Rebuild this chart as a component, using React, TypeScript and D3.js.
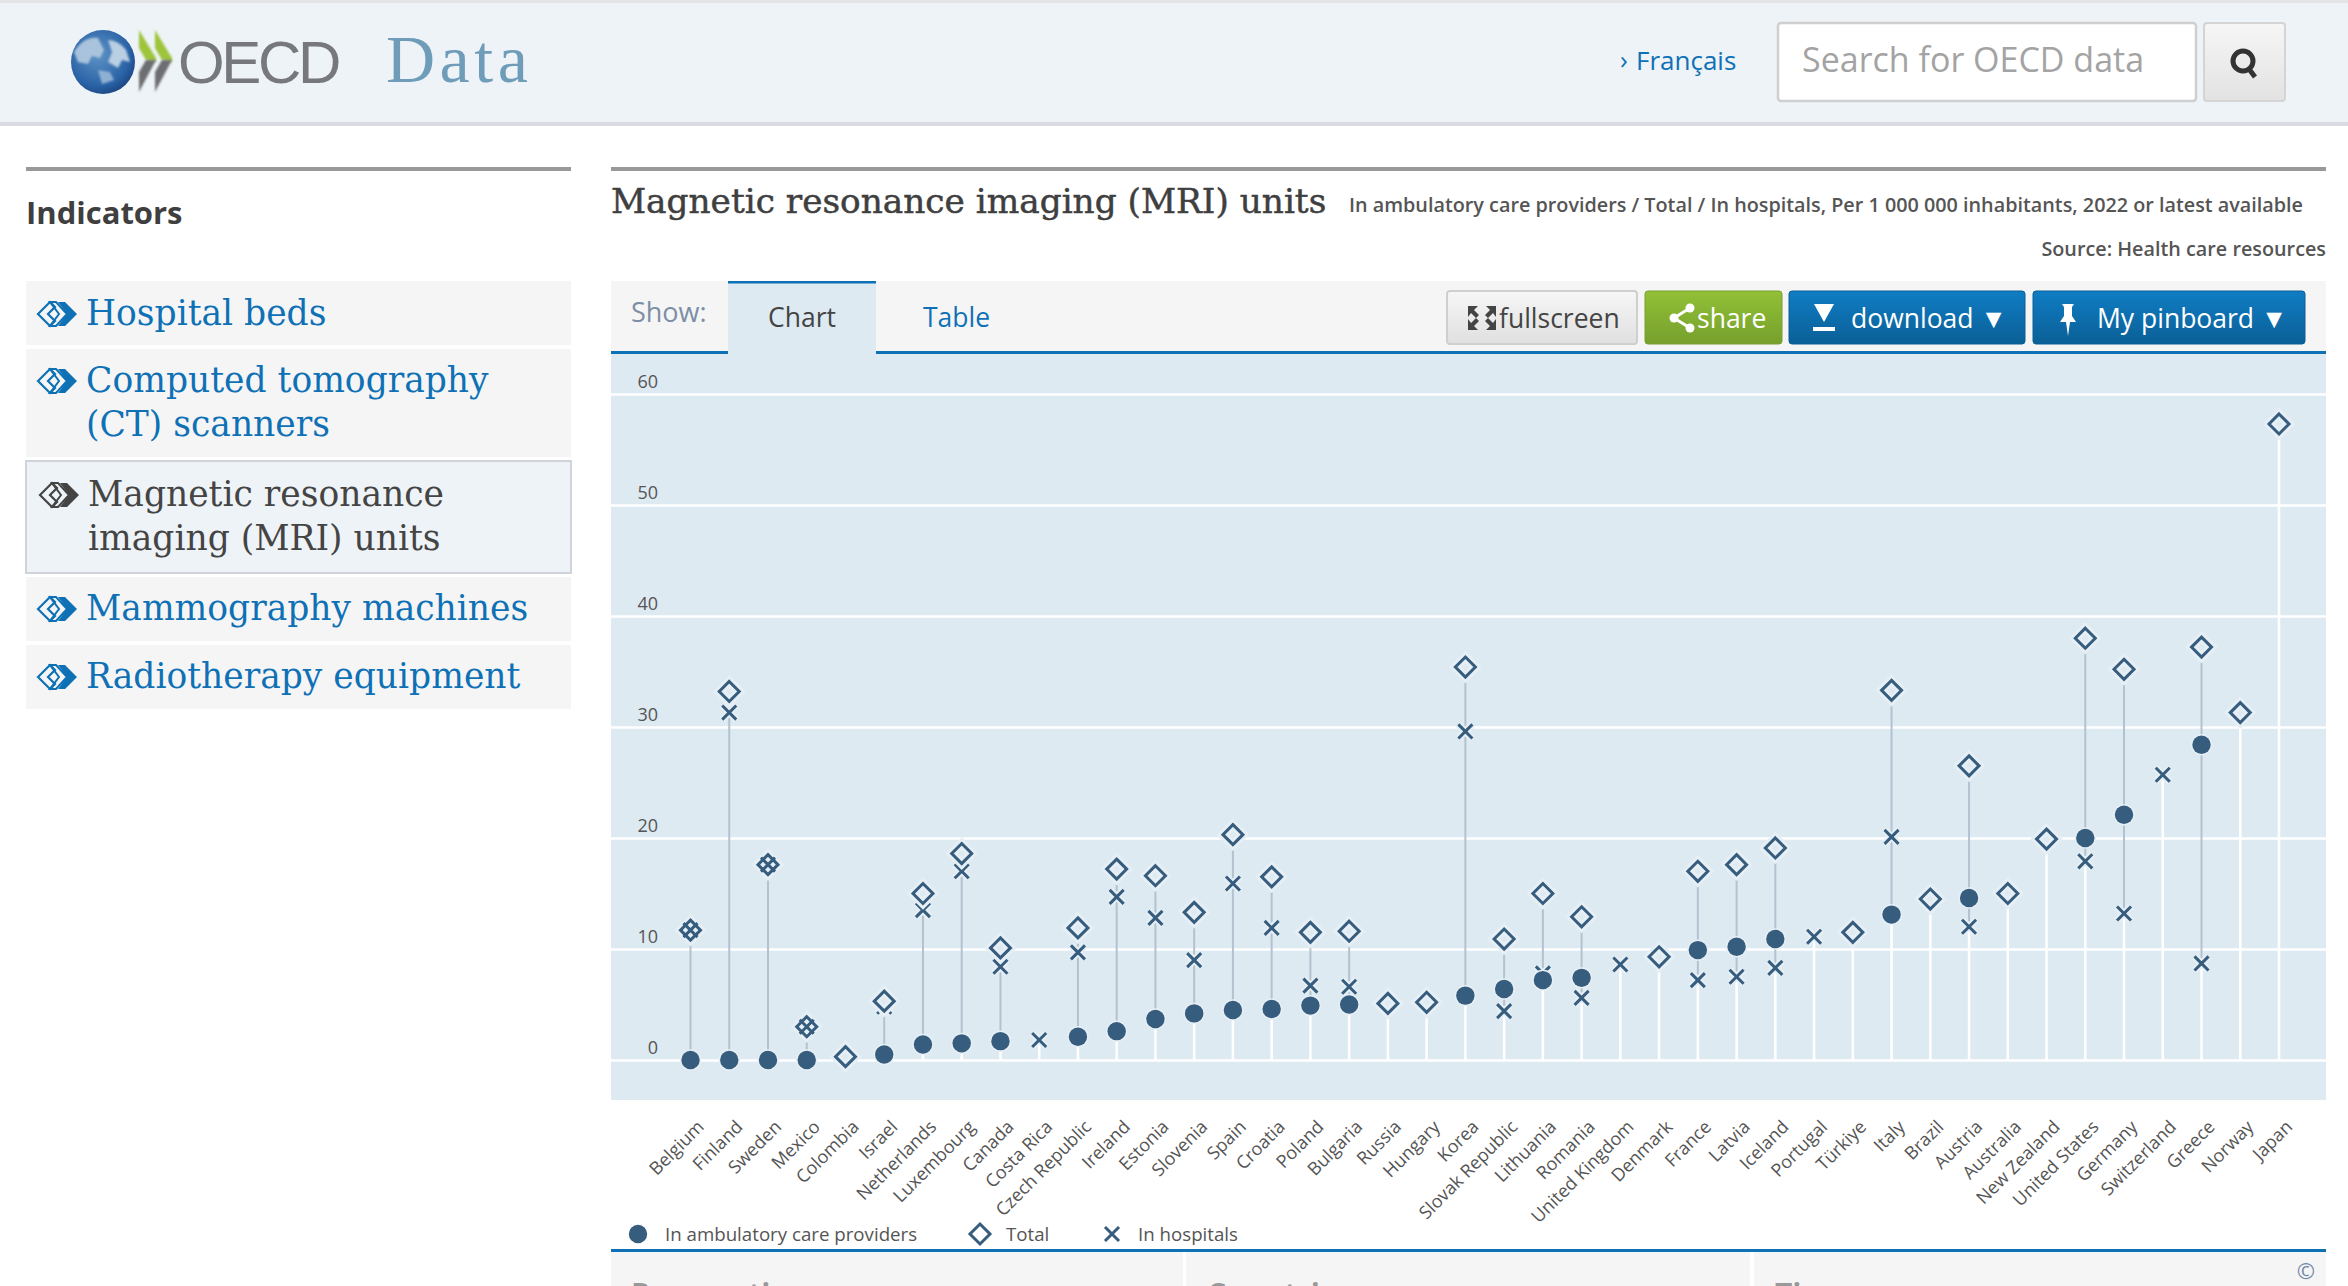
import React, { useEffect, useRef } from 'react';
import * as d3 from 'd3';

const countries = ['Belgium', 'Finland', 'Sweden', 'Mexico', 'Colombia', 'Israel', 'Netherlands', 'Luxembourg', 'Canada', 'Costa Rica', 'Czech Republic', 'Ireland', 'Estonia', 'Slovenia', 'Spain', 'Croatia', 'Poland', 'Bulgaria', 'Russia', 'Hungary', 'Korea', 'Slovak Republic', 'Lithuania', 'Romania', 'United Kingdom', 'Denmark', 'France', 'Latvia', 'Iceland', 'Portugal', 'Türkiye', 'Italy', 'Brazil', 'Austria', 'Australia', 'New Zealand', 'United States', 'Germany', 'Switzerland', 'Greece', 'Norway', 'Japan'];

// null = not reported for that country
const ambulatory = [0, 0, 0, 0, null, 0.5, 1.4, 1.5, 1.7, null, 2.1, 2.6, 3.7, 4.2, 4.5, 4.6, 4.9, 5.0, null, null, 5.8, 6.4, 7.2, 7.4, null, null, 9.9, 10.2, 10.9, null, null, 13.1, null, 14.6, null, null, 20.0, 22.1, null, 28.4, null, null];
const total = [11.7, 33.2, 17.6, 3.0, 0.3, 5.3, 15.0, 18.6, 10.1, null, 11.9, 17.2, 16.6, 13.3, 20.3, 16.5, 11.5, 11.6, 5.1, 5.2, 35.4, 10.9, 15.0, 12.9, null, 9.3, 17.0, 17.6, 19.1, null, 11.5, 33.3, 14.5, 26.5, 15.0, 19.9, 38.0, 35.2, null, 37.2, 31.3, 57.3];
const hospitals = [11.7, 31.3, 17.6, 3.0, null, 4.8, 13.5, 17.0, 8.4, 1.8, 9.7, 14.7, 12.8, 9.0, 15.9, 11.9, 6.7, 6.6, null, null, 29.6, 4.4, 7.8, 5.6, 8.6, null, 7.2, 7.5, 8.3, 11.1, null, 20.1, null, 12.0, null, null, 17.9, 13.2, 25.7, 8.7, null, null];

const yTicks = [0, 10, 20, 30, 40, 50, 60];
const indicators = [
  { lines: ['Hospital beds'], active: false },
  { lines: ['Computed tomography', '(CT) scanners'], active: false },
  { lines: ['Magnetic resonance', 'imaging (MRI) units'], active: true },
  { lines: ['Mammography machines'], active: false },
  { lines: ['Radiotherapy equipment'], active: false },
];

const W = 2348;
const H = 1286;
const plot = { left: 611, right: 2326, top: 354, bottom: 1100 };
const MARK = '#365c7e';
const PLOT_BG = '#deeaf2';
const BLUE = '#0f71b5';
const SANS = '"Open Sans", "Noto Sans", sans-serif';
const SERIF = '"DejaVu Serif", serif';

const circlePath = d3.symbol().type(d3.symbolCircle).size(Math.PI * 9.2 * 9.2)()!;
const diamondPath = d3.symbol().type(d3.symbolDiamond2).size(255)()!;
const timesPath = d3.symbol().type(d3.symbolTimes).size(130)()!;

// little double-chevron in front of each indicator
function IndicatorIcon({ x, y, color }: { x: number; y: number; color: string }) {
  return (
    <g transform={`translate(${x},${y})`}>
      <path d="M0,0 L12,-12 L17,-7 L10,0 L17,7 L12,12 Z" fill="none" stroke={color} strokeWidth={2.2} />
      <path d="M12,-12 L18,-12 L29,0 L18,12 L12,12 L21,0 Z" fill="none" stroke={color} strokeWidth={2} />
      <path d="M20,-12 L27,-12 L39,0 L27,12 L20,12 L29,0 Z" fill={color} />
    </g>
  );
}

function Button({ x, w, label, fill, dark, textX }: { x: number; w: number; label: string; fill: string; dark: string; textX: number }) {
  const id = `btn-${x}`;
  const plain = fill === '#f6f6f6';
  return (
    <g>
      <defs>
        <linearGradient id={id} x1="0" y1="0" x2="0" y2="1">
          <stop offset="0" stopColor={fill} />
          <stop offset="1" stopColor={dark} />
        </linearGradient>
      </defs>
      <rect x={x} y={291} width={w} height={53} rx={3} fill={`url(#${id})`} stroke={plain ? '#cfcfcf' : dark} strokeWidth={plain ? 2 : 1} />
      <text x={textX} y={328} fontFamily={SANS} fontSize={26.5} fill={plain ? '#444' : '#fff'}>{label}</text>
    </g>
  );
}

export default function App() {
  const chartRef = useRef<SVGGElement>(null);

  useEffect(() => {
    const g = d3.select(chartRef.current);
    g.selectAll('*').remove();

    const x = d3.scalePoint<string>().domain(countries).range([690.5, 2279]);
    const y = d3.scaleLinear().domain([0, 60]).range([1060, 394]);

    // y axis: gridlines across the plot, labels sitting above them
    const yAxis = g.append('g')
      .attr('transform', `translate(${plot.right},0)`)
      .call(d3.axisLeft(y).tickValues(yTicks).tickSize(plot.right - plot.left));
    yAxis.select('.domain').remove();
    yAxis.selectAll('line').attr('stroke', '#fff').attr('stroke-width', 2.5);
    yAxis.selectAll('text')
      .attr('x', 658 - plot.right)
      .attr('dy', '-0.38em')
      .attr('text-anchor', 'end')
      .attr('font-family', SANS)
      .attr('font-size', 18)
      .attr('fill', '#555');

    const rows = countries.map((c, i) => ({ c, a: ambulatory[i], t: total[i], h: hospitals[i] }));

    // stems: white from zero to the lowest mark, grey between lowest and highest
    rows.forEach(r => {
      const vals = [r.a, r.t, r.h].filter(v => v !== null) as number[];
      const lo = d3.min(vals)!;
      const hi = d3.max(vals)!;
      g.append('line').attr('x1', x(r.c)!).attr('x2', x(r.c)!).attr('y1', y(0)).attr('y2', y(lo))
        .attr('stroke', '#fff').attr('stroke-width', 2.5);
      g.append('line').attr('x1', x(r.c)!).attr('x2', x(r.c)!).attr('y1', y(lo)).attr('y2', y(hi))
        .attr('stroke', '#b3c2cf').attr('stroke-width', 2);
    });

    const pos = (v: number | null, c: string) => `translate(${x(c)},${y(v as number)})`;

    // hospitals go under the diamonds unless both share a value
    const hospitalMarks = (data: typeof rows) => {
      g.selectAll(null).data(data).enter().append('path')
        .attr('d', timesPath)
        .attr('transform', d => pos(d.h, d.c))
        .attr('fill', 'none')
        .attr('stroke', '#e6eff5')
        .attr('stroke-width', 7);
      g.selectAll(null).data(data).enter().append('path')
        .attr('d', timesPath)
        .attr('transform', d => pos(d.h, d.c))
        .attr('fill', 'none')
        .attr('stroke', MARK)
        .attr('stroke-width', 3);
    };

    const withH = rows.filter(r => r.h !== null);
    hospitalMarks(withH);

    const withA = rows.filter(r => r.a !== null);
    g.selectAll(null).data(withA).enter().append('path')
      .attr('d', circlePath)
      .attr('transform', d => pos(d.a, d.c))
      .attr('fill', MARK)
      .attr('stroke', '#e6eff5')
      .attr('stroke-width', 3)
      .attr('paint-order', 'stroke');

    const withT = rows.filter(r => r.t !== null);
    g.selectAll(null).data(withT).enter().append('path')
      .attr('d', diamondPath)
      .attr('transform', d => pos(d.t, d.c))
      .attr('fill', '#deeaf2')
      .attr('stroke', '#e6eff5')
      .attr('stroke-width', 9);
    g.selectAll(null).data(withT).enter().append('path')
      .attr('d', diamondPath)
      .attr('transform', d => pos(d.t, d.c))
      .attr('fill', 'none')
      .attr('stroke', MARK)
      .attr('stroke-width', 3);

    g.selectAll(null).data(withH.filter(r => r.h === r.t)).enter().append('path')
      .attr('d', timesPath)
      .attr('transform', d => pos(d.h, d.c))
      .attr('fill', 'none')
      .attr('stroke', MARK)
      .attr('stroke-width', 3);

    // x axis with slanted country names
    const xAxis = g.append('g')
      .attr('transform', `translate(0,${plot.bottom})`)
      .call(d3.axisBottom(x).tickSize(0));
    xAxis.select('.domain').remove();
    xAxis.selectAll('text')
      .attr('x', 0)
      .attr('y', 0)
      .attr('dy', 0)
      .attr('text-anchor', 'end')
      .attr('transform', 'translate(14,28) rotate(-45)')
      .attr('font-family', SANS)
      .attr('font-size', 18)
      .attr('fill', '#555');
  }, []);

  return (
    <svg width={W} height={H} viewBox={`0 0 ${W} ${H}`} style={{ position: 'fixed', left: 0, top: 0, background: '#fff' }}>
      <defs>
        <radialGradient id="globe" cx="0.42" cy="0.38" r="0.7">
          <stop offset="0" stopColor="#5f94c7" />
          <stop offset="0.7" stopColor="#2a63a6" />
          <stop offset="1" stopColor="#163e78" />
        </radialGradient>
        <linearGradient id="plain" x1="0" y1="0" x2="0" y2="1">
          <stop offset="0" stopColor="#f6f6f6" />
          <stop offset="1" stopColor="#e2e2e2" />
        </linearGradient>
        <filter id="soft"><feGaussianBlur stdDeviation="0.9" /></filter>
      </defs>

      {/* header */}
      <rect x={0} y={0} width={W} height={3} fill="#e4e4e6" />
      <rect x={0} y={3} width={W} height={119} fill="#eef3f7" />
      <rect x={0} y={122} width={W} height={4} fill="#d9dbe0" />
      <circle cx={103} cy={62} r={32} fill="url(#globe)" />
      <g filter="url(#soft)">
        <path d="M74,52 Q84,36 98,38 L104,50 L100,58 L92,56 L88,64 L78,62 Z" fill="#a9c3dc" />
        <path d="M108,40 Q118,40 126,50 L130,62 L122,60 L118,68 L108,62 L112,52 Z" fill="#b9cfe2" />
        <path d="M98,70 L110,72 L114,80 L102,84 Z" fill="#8fb0d2" />
      </g>
      <path d="M139,30 L156,58 L156,62 L146,60 L139,48 Z M155,30 L172,58 L172,62 L162,60 L155,48 Z" fill="#9dc43b" filter="url(#soft)" />
      <path d="M146,60 L156,60 L139,92 L139,72 Z M162,60 L172,60 L155,92 L155,72 Z" fill="#6d6e71" filter="url(#soft)" />
      <text x={178} y={83} fontFamily="Liberation Sans" fontSize={60} letterSpacing={-3.3} fill="#77787b">OECD</text>
      <text x={386} y={82} fontFamily="Liberation Serif" fontSize={68} letterSpacing={4.5} fill="#6f9cb9">Data</text>

      <text x={1620} y={69} fontFamily={SANS} fontSize={26} fill={BLUE}>›</text>
      <text x={1636} y={70} fontFamily={SANS} fontSize={26} fill={BLUE}>Français</text>
      <rect x={1778} y={23} width={418} height={78} rx={3} fill="#fff" stroke="#cfcfcf" strokeWidth={2.5} />
      <text x={1802} y={72} fontFamily={SANS} fontSize={34} fill="#a3a3a3">Search for OECD data</text>
      <rect x={2204} y={23} width={81} height={78} rx={3} fill="url(#plain)" stroke="#d4d4d4" strokeWidth={2} />
      <circle cx={2243} cy={61} r={10} fill="none" stroke="#333" strokeWidth={5} />
      <path d="M2249,69 L2255,77" stroke="#333" strokeWidth={5} />

      {/* sidebar */}
      <rect x={26} y={167} width={545} height={4} fill="#999" />
      <text x={26} y={224} fontFamily={SANS} fontWeight={700} fontSize={31} fill="#3f3f3f">Indicators</text>
      {indicators.map((d, i) => {
        const tops = [281, 349, 461, 577, 645];
        const heights = [64, 108, 112, 64, 64];
        const first = [325, 392, 506, 620, 688];
        const color = d.active ? '#444' : BLUE;
        return (
          <g key={i}>
            <rect x={26} y={tops[i]} width={545} height={heights[i]} fill={d.active ? '#eef3f7' : '#f5f5f5'}
              stroke={d.active ? '#d0d4da' : 'none'} strokeWidth={2} />
            <IndicatorIcon x={d.active ? 40 : 38} y={first[i] - 11} color={color} />
            {d.lines.map((l, j) => (
              <text key={j} x={d.active ? 88 : 86} y={first[i] + j * 44} fontFamily={SERIF} fontSize={34.5} fill={color}>{l}</text>
            ))}
          </g>
        );
      })}

      {/* title block */}
      <rect x={611} y={167} width={1715} height={4} fill="#999" />
      <text x={611} y={213} fontFamily={SERIF} fontSize={34.3} fill="#3f3f3f" stroke="#3f3f3f" strokeWidth={0.5}>Magnetic resonance imaging (MRI) units</text>
      <text x={2303} y={212} textAnchor="end" fontFamily={SANS} fontWeight={600} fontSize={19.8} fill="#555">In ambulatory care providers / Total / In hospitals, Per 1 000 000 inhabitants, 2022 or latest available</text>
      <text x={2326} y={256} textAnchor="end" fontFamily={SANS} fontWeight={600} fontSize={19.8} fill="#555">Source: Health care resources</text>

      {/* tab bar */}
      <rect x={611} y={281} width={1715} height={71} fill="#f5f5f5" />
      <rect x={728} y={281} width={148} height={73} fill={PLOT_BG} />
      <rect x={728} y={281} width={148} height={2.5} fill={BLUE} />
      <rect x={611} y={351} width={117} height={3} fill={BLUE} />
      <rect x={876} y={351} width={1450} height={3} fill={BLUE} />
      <text x={631} y={322} fontFamily={SANS} fontSize={27} fill="#7c8ea6">Show:</text>
      <text x={768} y={327} fontFamily={SANS} fontSize={26.5} fill="#444">Chart</text>
      <text x={923} y={327} fontFamily={SANS} fontSize={26.5} fill={BLUE}>Table</text>

      <Button x={1447} w={190} label="fullscreen" fill="#f6f6f6" dark="#e0e0e0" textX={1499} />
      <path d="M1468,306 L1478,306 L1474,310 L1479,315 L1476,318 L1471,313 L1468,317 Z M1496,306 L1486,306 L1490,310 L1485,315 L1488,318 L1493,313 L1496,317 Z M1468,330 L1478,330 L1474,326 L1479,321 L1476,318 L1471,323 L1468,319 Z M1496,330 L1486,330 L1490,326 L1485,321 L1488,318 L1493,323 L1496,319 Z" fill="#444" />
      <Button x={1645} w={137} label="share" fill="#92c037" dark="#76a02d" textX={1697} />
      <path d="M1690,308 L1674,318 L1690,328" fill="none" stroke="#fff" strokeWidth={3} />
      <circle cx={1690} cy={308} r={4.5} fill="#fff" /><circle cx={1674} cy={318} r={4.5} fill="#fff" /><circle cx={1690} cy={328} r={4.5} fill="#fff" />
      <Button x={1789} w={236} label="download ▼" fill="#0f7dc4" dark="#0b5f96" textX={1851} />
      <path d="M1814,304 L1834,304 L1824,322 Z" fill="#fff" /><rect x={1813} y={327} width={22} height={4} fill="#fff" />
      <Button x={2033} w={272} label="My pinboard ▼" fill="#0f7dc4" dark="#0b5f96" textX={2097} />
      <path d="M2062,304 L2074,304 L2072,307 L2072,316 L2076,322 L2070,322 L2068,336 L2066,322 L2060,322 L2064,316 L2064,307 Z" fill="#fff" />

      {/* plot */}
      <rect x={plot.left} y={plot.top} width={plot.right - plot.left} height={plot.bottom - plot.top} fill={PLOT_BG} />
      <g ref={chartRef} />

      {/* legend */}
      <path d={circlePath} transform="translate(638,1234)" fill={MARK} />
      <text x={665} y={1241} fontFamily={SANS} fontSize={18.7} fill="#555">In ambulatory care providers</text>
      <path d={diamondPath} transform="translate(980,1234)" fill="none" stroke={MARK} strokeWidth={3} />
      <text x={1006} y={1241} fontFamily={SANS} fontSize={18.7} fill="#555">Total</text>
      <path d={timesPath} transform="translate(1112,1234)" fill="none" stroke={MARK} strokeWidth={3} />
      <text x={1138} y={1241} fontFamily={SANS} fontSize={18.7} fill="#555">In hospitals</text>
      <rect x={611} y={1249} width={1715} height={3} fill={BLUE} />

      {/* filter panels cut off by the bottom of the page */}
      <rect x={611} y={1252} width={572} height={34} fill="#f5f5f5" />
      <rect x={1186} y={1252} width={564} height={34} fill="#f5f5f5" />
      <rect x={1754} y={1252} width={572} height={34} fill="#f5f5f5" />
      <text x={631} y={1305} fontFamily={SANS} fontWeight={700} fontSize={30} fill="#999">Perspectives</text>
      <text x={1207} y={1305} fontFamily={SANS} fontWeight={700} fontSize={30} fill="#999">Countries</text>
      <text x={1775} y={1305} fontFamily={SANS} fontWeight={700} fontSize={30} fill="#999">Time</text>
      <text x={2306} y={1279} textAnchor="middle" fontFamily={SANS} fontSize={22} fill="#7488a8">©</text>
    </svg>
  );
}
